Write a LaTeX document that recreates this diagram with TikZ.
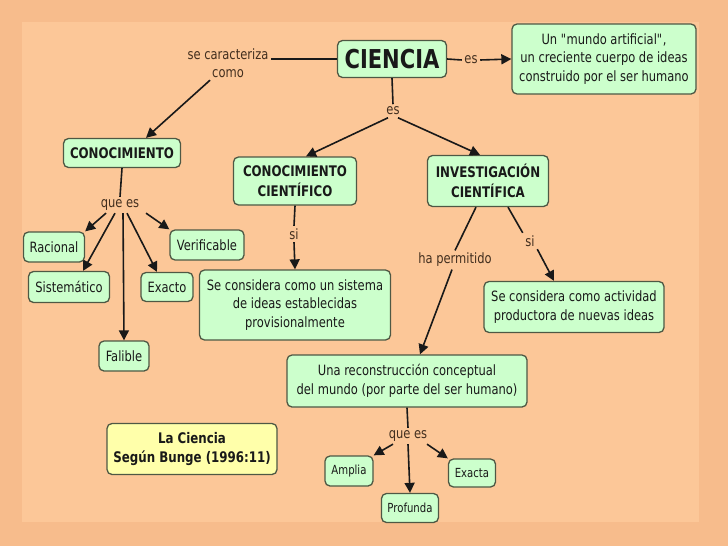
\documentclass[tikz,border=0pt]{standalone}
\usepackage{fontspec}
\setmainfont{DejaVu Sans Condensed}[FakeStretch=0.9]
\usetikzlibrary{arrows.meta}
\definecolor{bgout}{RGB}{247,188,140}
\definecolor{bgin}{RGB}{252,199,152}
\definecolor{boxfill}{RGB}{204,255,204}
\definecolor{boxdraw}{RGB}{78,88,68}
\definecolor{yel}{RGB}{255,255,170}
\definecolor{lbl}{RGB}{66,46,30}
\definecolor{txt}{RGB}{25,25,25}
\begin{document}
\begin{tikzpicture}[x=1pt,y=-1pt,
  cbox/.style 2 args={draw=boxdraw, line width=1.3pt, fill=boxfill, rounded corners=5pt,
    align=center, text=txt, inner sep=0pt, minimum width=#1pt, minimum height=#2pt,
    font=\fontsize{14.2}{18.5}\selectfont},
  ttl/.style={font=\fontsize{14.6}{20}\selectfont\bfseries},
  sml/.style={font=\fontsize{12.5}{14}\selectfont},
  lab/.style={text=lbl, inner sep=2.5pt, align=center, font=\fontsize{14.2}{18}\selectfont},
  ln/.style={draw=black!90, line width=1.6pt},
  arr/.style={ln, -{Triangle[length=10pt,width=10pt]}}]
\fill[bgout] (0,0) rectangle (728,546);
\fill[bgin] (22,22) rectangle (699,522);
% nodes
\node[cbox={109}{37}, font=\fontsize{26}{28}\selectfont\bfseries] (ciencia) at (392,59) {CIENCIA};
\node[cbox={184}{70}] (art) at (604,59) {Un \textquotedbl mundo artificial\textquotedbl,\\un creciente cuerpo de ideas\\construido por el ser humano};
\node[cbox={117}{29}, ttl] (conoc) at (122,153) {CONOCIMIENTO};
\node[cbox={123}{48}, ttl] (cc) at (295,181) {CONOCIMIENTO\\CIENTÍFICO};
\node[cbox={121}{51}, ttl] (ic) at (488,181) {INVESTIGACIÓN\\CIENTÍFICA};
\node[cbox={61}{30}] (racional) at (54,247) {Racional};
\node[cbox={81}{31}] (sist) at (69,287) {Sistemático};
\node[cbox={50}{30}] (falible) at (124,356) {Falible};
\node[cbox={52}{29}] (exacto) at (167,287) {Exacto};
\node[cbox={74}{30}] (verif) at (207,245) {Verificable};
\node[cbox={191}{70}] (scs) at (295,305) {Se considera como un sistema\\de ideas establecidas\\provisionalmente};
\node[cbox={180}{51}] (sca) at (574,307) {Se considera como actividad\\productora de nuevas ideas};
\node[cbox={240}{52}] (una) at (407,381) {Una reconstrucción conceptual\\del mundo (por parte del ser humano)};
\node[cbox={48}{30}, sml] (amplia) at (349,471) {Amplia};
\node[cbox={57}{29}, sml] (profunda) at (410,508) {Profunda};
\node[cbox={47}{28}, sml] (exacta) at (472,473) {Exacta};
\node[cbox={170}{51}, fill=yel, font=\fontsize{14.6}{19}\selectfont\bfseries] (bunge) at (192,449) {La Ciencia\\Según Bunge (1996:11)};
% labels
\node[lab] (lseca) at (228,63) {se caracteriza\\como};
\node[lab] (les1) at (471,60) {es};
\node[lab] (les2) at (393,111) {es};
\node[lab] (lque1) at (120,205) {que es};
\node[lab] (lsi1) at (294,234) {si};
\node[lab] (lha) at (455,260) {ha permitido};
\node[lab] (lsi2) at (530,241) {si};
\node[lab] (lque2) at (408,436) {que es};
% connectors
\draw[ln] (ciencia.west) -- (ciencia.west -| lseca.east);
\draw[arr] ([xshift=-18pt]lseca.south) -- ([xshift=24pt]conoc.north);
\draw[ln] (ciencia.east) -- (les1.west);
\draw[arr] (les1.east) -- (art.west);
\draw[ln] (ciencia.south) -- (les2.north);
\draw[arr] ([xshift=-5pt]les2.south) -- ([xshift=11pt]cc.north);
\draw[arr] ([xshift=5pt]les2.south) -- ([xshift=-8pt]ic.north);
\draw[ln] (conoc.south) -- (lque1.north);
\draw[arr] ([xshift=-14pt]lque1.south) -- (racional.north east);
\draw[arr] ([xshift=-5pt]lque1.south) -- ([xshift=14pt]sist.north);
\draw[arr] ([xshift=3pt]lque1.south) -- (falible.north);
\draw[arr] ([xshift=7pt]lque1.south) -- ([xshift=-10pt]exacto.north);
\draw[arr] ([xshift=26pt]lque1.south) -- (verif.north west);
\draw[ln] (cc.south) -- (lsi1.north);
\draw[arr] (lsi1.south) -- (scs.north);
\draw[ln] ([xshift=-12pt]ic.south) -- (lha.north);
\draw[arr] ([xshift=-3pt]lha.south) -- ([xshift=13pt]una.north);
\draw[ln] ([xshift=20pt]ic.south) -- (lsi2.north west);
\draw[arr] (lsi2.south east) -- ([xshift=-20pt]sca.north);
\draw[ln] (una.south) -- (lque2.north);
\draw[arr] ([xshift=-15pt]lque2.south) -- (amplia.north east);
\draw[arr] (lque2.south) -- (profunda.north);
\draw[arr] ([xshift=19pt]lque2.south) -- (exacta.north west);
\end{tikzpicture}
\end{document}
